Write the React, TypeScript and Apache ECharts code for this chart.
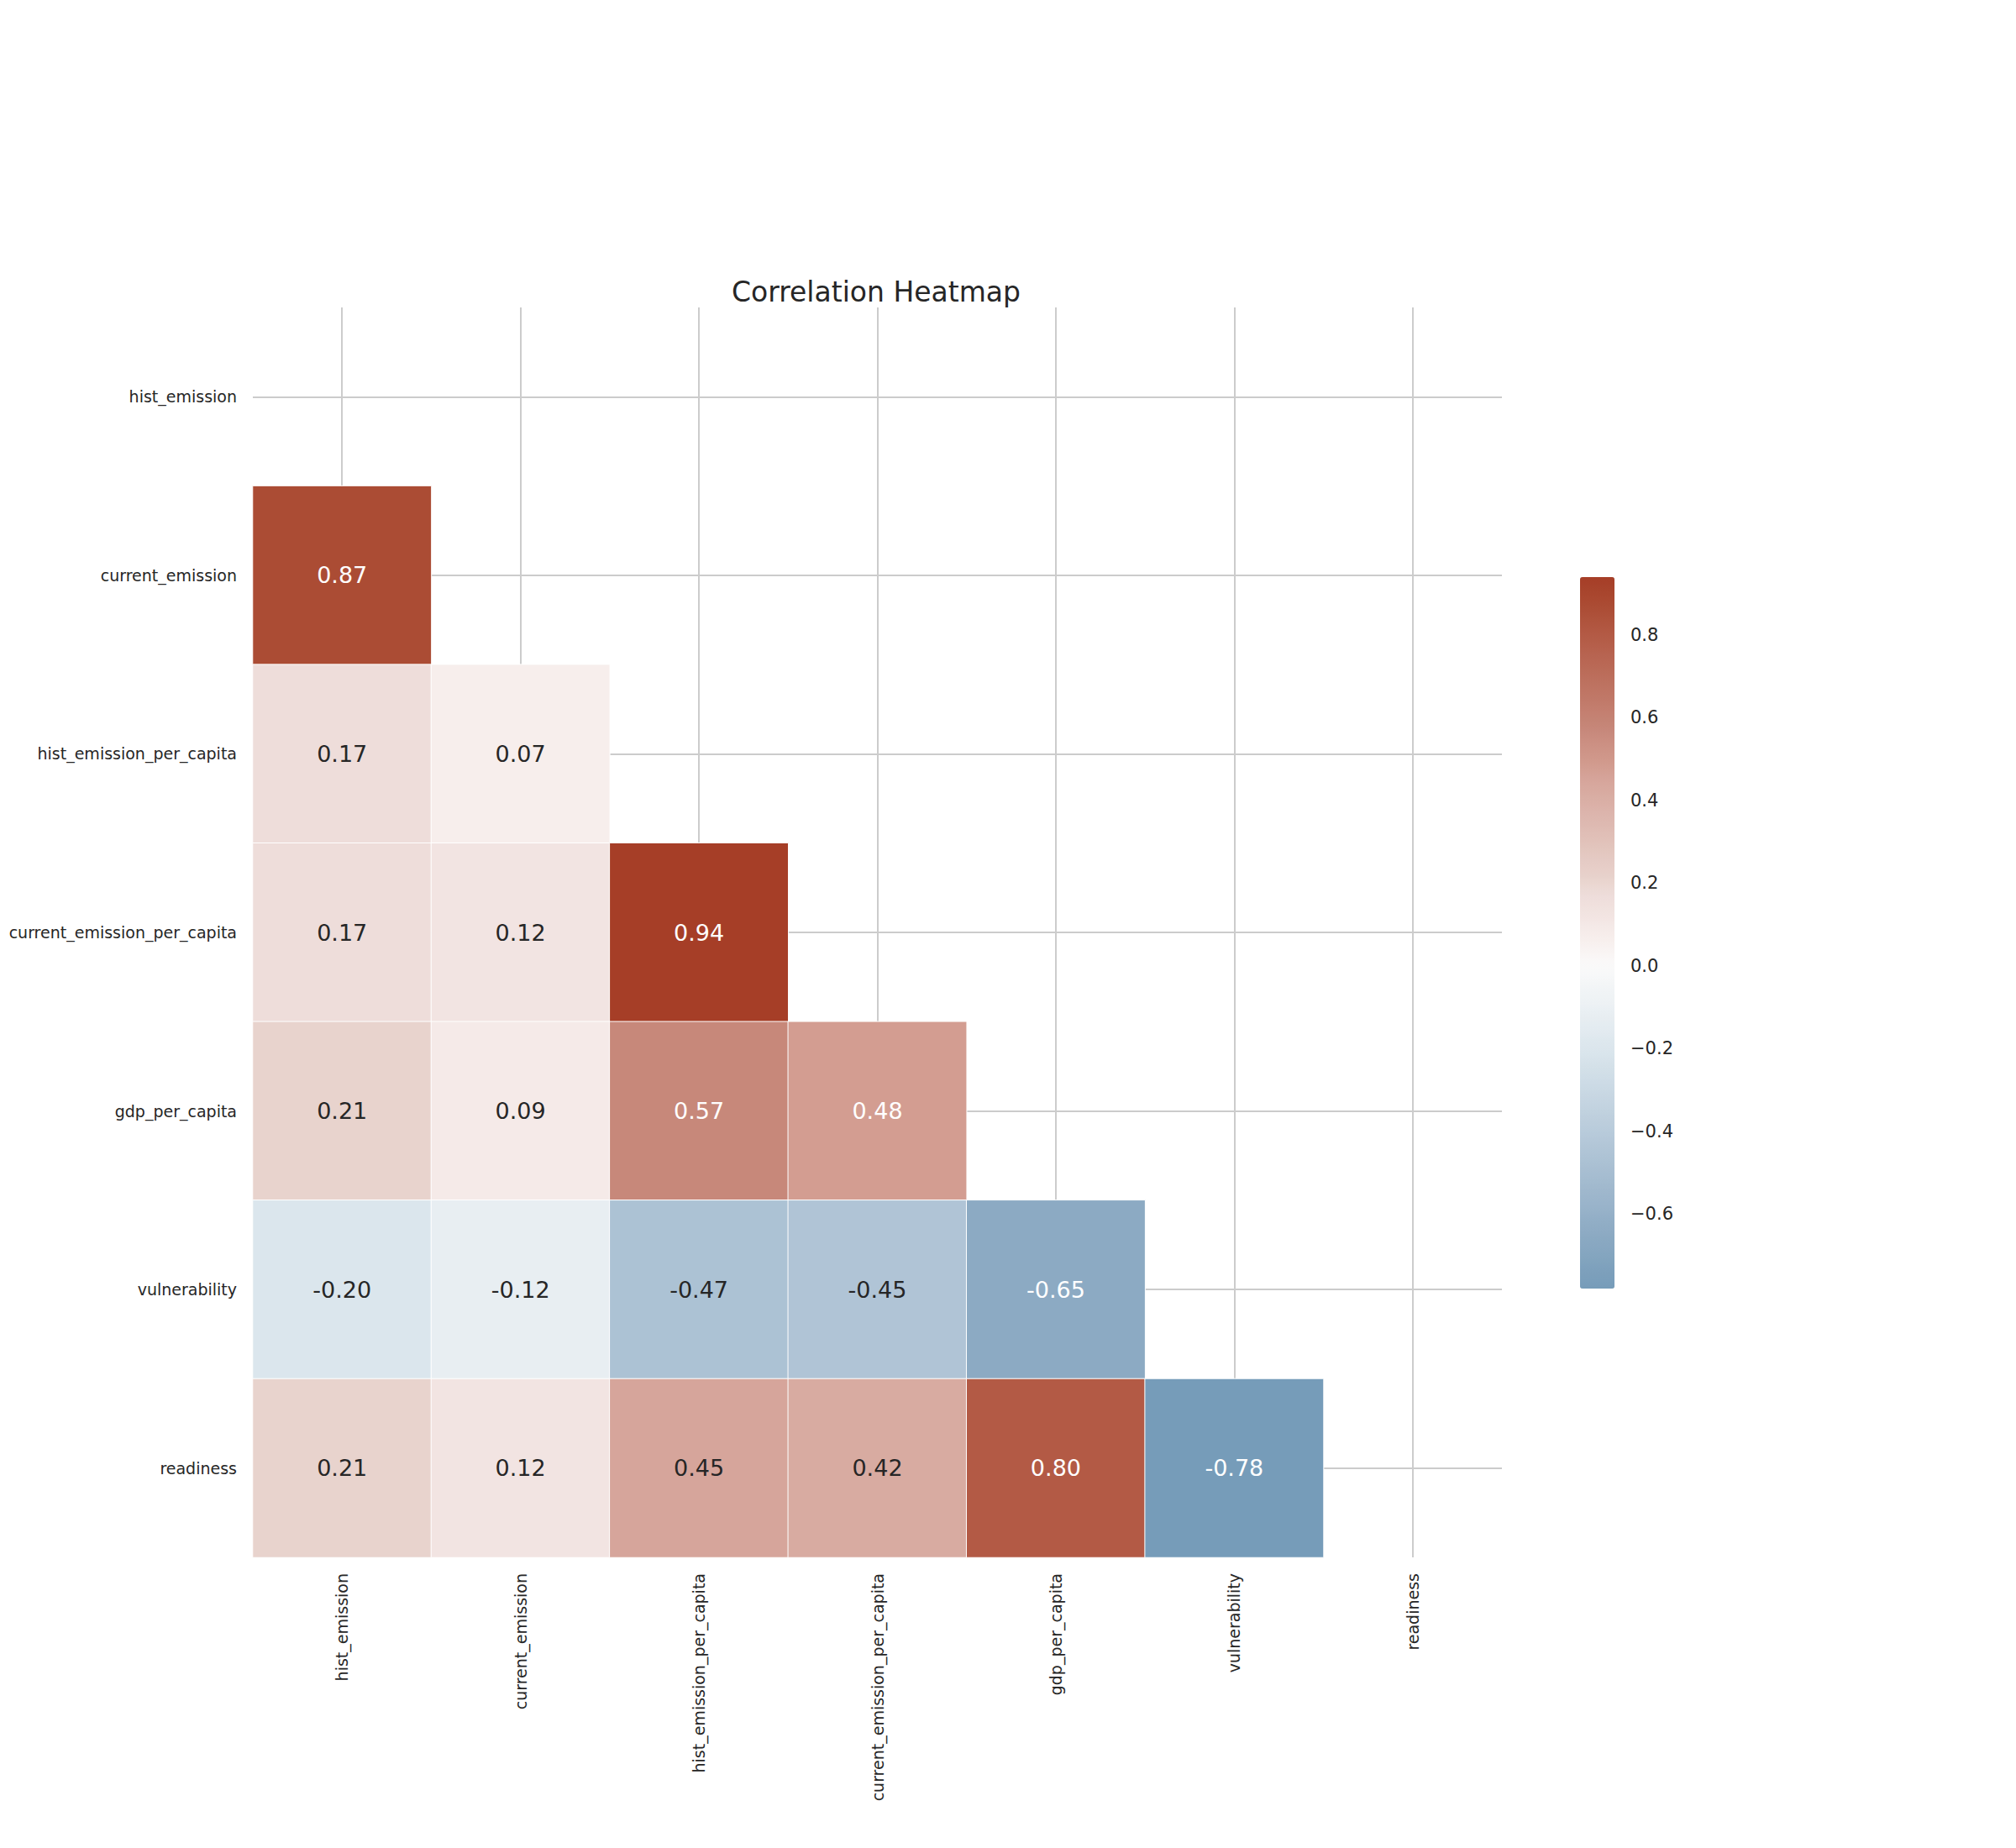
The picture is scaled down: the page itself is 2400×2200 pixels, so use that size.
import React, { useEffect, useRef } from "react";
import * as echarts from "echarts";

const CATEGORIES = [
  "hist_emission",
  "current_emission",
  "hist_emission_per_capita",
  "current_emission_per_capita",
  "gdp_per_capita",
  "vulnerability",
  "readiness",
];

// lower triangle of the correlation matrix (row i holds columns 0..i-1)
const ROW_HIST_EMISSION: number[] = [];
const ROW_CURRENT_EMISSION = [0.87];
const ROW_HIST_EMISSION_PC = [0.17, 0.07];
const ROW_CURRENT_EMISSION_PC = [0.17, 0.12, 0.94];
const ROW_GDP_PC = [0.21, 0.09, 0.57, 0.48];
const ROW_VULNERABILITY = [-0.2, -0.12, -0.47, -0.45, -0.65];
const ROW_READINESS = [0.21, 0.12, 0.45, 0.42, 0.8, -0.78];

const ROWS = [
  ROW_HIST_EMISSION,
  ROW_CURRENT_EMISSION,
  ROW_HIST_EMISSION_PC,
  ROW_CURRENT_EMISSION_PC,
  ROW_GDP_PC,
  ROW_VULNERABILITY,
  ROW_READINESS,
];

const COLORBAR_MIN = -0.78;
const COLORBAR_MAX = 0.94;
const COLORBAR_TICKS = [-0.6, -0.4, -0.2, 0.0, 0.2, 0.4, 0.6, 0.8];

// colour anchors of the diverging palette (style)
const COLOR_ANCHORS: [number, string][] = [
  [-0.78, "#769cb9"],
  [-0.65, "#8caac3"],
  [-0.46, "#aec3d5"],
  [-0.2, "#dbe6ed"],
  [-0.12, "#e8eef2"],
  [0.0, "#fafafa"],
  [0.07, "#f7eeec"],
  [0.12, "#f2e4e2"],
  [0.17, "#eeddda"],
  [0.21, "#e8d3cd"],
  [0.45, "#d6a59b"],
  [0.48, "#d39d91"],
  [0.57, "#c7887a"],
  [0.8, "#b35a45"],
  [0.87, "#ab4c34"],
  [0.94, "#a63e27"],
];

function hexToRgb(h: string) {
  const n = parseInt(h.slice(1), 16);
  return [(n >> 16) & 255, (n >> 8) & 255, n & 255];
}
function colorAt(v: number) {
  for (let i = 0; i < COLOR_ANCHORS.length - 1; i++) {
    const [a, ca] = COLOR_ANCHORS[i];
    const [b, cb] = COLOR_ANCHORS[i + 1];
    if (v <= b + 1e-9) {
      const t = Math.max(0, Math.min(1, (v - a) / (b - a)));
      const A = hexToRgb(ca);
      const B = hexToRgb(cb);
      const c = A.map((x, k) => Math.round(x + (B[k] - x) * t));
      return `rgb(${c[0]},${c[1]},${c[2]})`;
    }
  }
  return COLOR_ANCHORS[COLOR_ANCHORS.length - 1][1];
}
function buildRamp() {
  const out: string[] = [];
  const n = 173;
  for (let i = 0; i < n; i++) {
    out.push(colorAt(COLORBAR_MIN + ((COLORBAR_MAX - COLORBAR_MIN) * i) / (n - 1)));
  }
  return out;
}

const FONT = "DejaVu Sans";
const DARK = "#262626";

export default function App() {
  const ref = useRef<HTMLDivElement>(null);
  useEffect(() => {
    document.body.style.margin = "0";
    if (!ref.current) return;
    const chart = echarts.init(ref.current, undefined, { renderer: "svg" });

    const data: any[] = [];
    ROWS.forEach((row, y) => {
      row.forEach((v, x) => {
        const white = v > 0.46 || v < -0.6;
        data.push({
          value: [x, y, v],
          label: { color: white ? "#ffffff" : DARK },
        });
      });
    });

    const option: any = {
      animation: false,
      backgroundColor: "#ffffff",
      textStyle: { fontFamily: FONT },
      title: {
        text: "Correlation Heatmap",
        left: 1043,
        textAlign: "center",
        top: 331,
        padding: 0,
        textStyle: { fontFamily: FONT, fontSize: 33, fontWeight: "normal", color: DARK },
      },
      grid: [
        { left: 301, top: 366, width: 1487, height: 1488 },
        { left: 1881, top: 687, width: 41, height: 847 },
      ],
      xAxis: [
        {
          type: "category",
          gridIndex: 0,
          data: CATEGORIES,
          axisLine: { show: false },
          axisTick: { show: false },
          splitLine: { show: false },
          axisLabel: {
            rotate: 90,
            margin: 19,
            fontSize: 19,
            fontFamily: FONT,
            color: DARK,
            interval: 0,
          },
        },
        { type: "value", gridIndex: 1, show: false, min: 0, max: 1 },
      ],
      yAxis: [
        {
          type: "category",
          gridIndex: 0,
          data: CATEGORIES,
          inverse: true,
          axisLine: { show: false },
          axisTick: { show: false },
          splitLine: { show: false },
          axisLabel: {
            margin: 19,
            fontSize: 19,
            fontFamily: FONT,
            color: DARK,
            interval: 0,
          },
        },
        {
          type: "value",
          gridIndex: 1,
          position: "right",
          min: COLORBAR_MIN,
          max: COLORBAR_MAX,
          axisLine: { show: false },
          splitLine: { show: false },
          axisTick: {
            show: true,
            customValues: COLORBAR_TICKS,
            length: 12,
            lineStyle: { color: DARK, width: 2 },
          },
          axisLabel: {
            customValues: COLORBAR_TICKS,
            margin: 19,
            fontSize: 21,
            fontFamily: FONT,
            color: DARK,
            formatter: (v: number) =>
              v < 0 ? "\u2212" + Math.abs(v).toFixed(1) : v.toFixed(1),
          },
        },
      ],
      visualMap: {
        type: "continuous",
        seriesIndex: 0,
        min: COLORBAR_MIN,
        max: COLORBAR_MAX,
        orient: "vertical",
        left: 1881,
        top: 687,
        itemWidth: 41,
        itemHeight: 847,
        padding: 0,
        calculable: false,
        hoverLink: false,
        inRange: { color: buildRamp() },
      },
      series: [
        {
          type: "heatmap",
          xAxisIndex: 0,
          yAxisIndex: 0,
          z: 10,
          data,
          itemStyle: { borderColor: "#ffffff", borderWidth: 1 },
          emphasis: { disabled: true },
          label: {
            show: true,
            fontSize: 27,
            fontFamily: FONT,
            formatter: (p: any) => Number(p.value[2]).toFixed(2),
          },
        },
        {
          type: "line",
          xAxisIndex: 0,
          yAxisIndex: 0,
          z: 1,
          data: [],
          silent: true,
          markLine: {
            z: 1,
            silent: true,
            symbol: ["none", "none"],
            label: { show: false },
            lineStyle: { color: "#cccccc", width: 2, type: "solid" },
            data: [
              ...CATEGORIES.map((c) => ({ xAxis: c })),
              ...CATEGORIES.map((c) => ({ yAxis: c })),
            ],
          },
        },
      ],
    };
    chart.setOption(option);
    return () => chart.dispose();
  }, []);
  return <div ref={ref} style={{ width: 2400, height: 2200 }} />;
}
